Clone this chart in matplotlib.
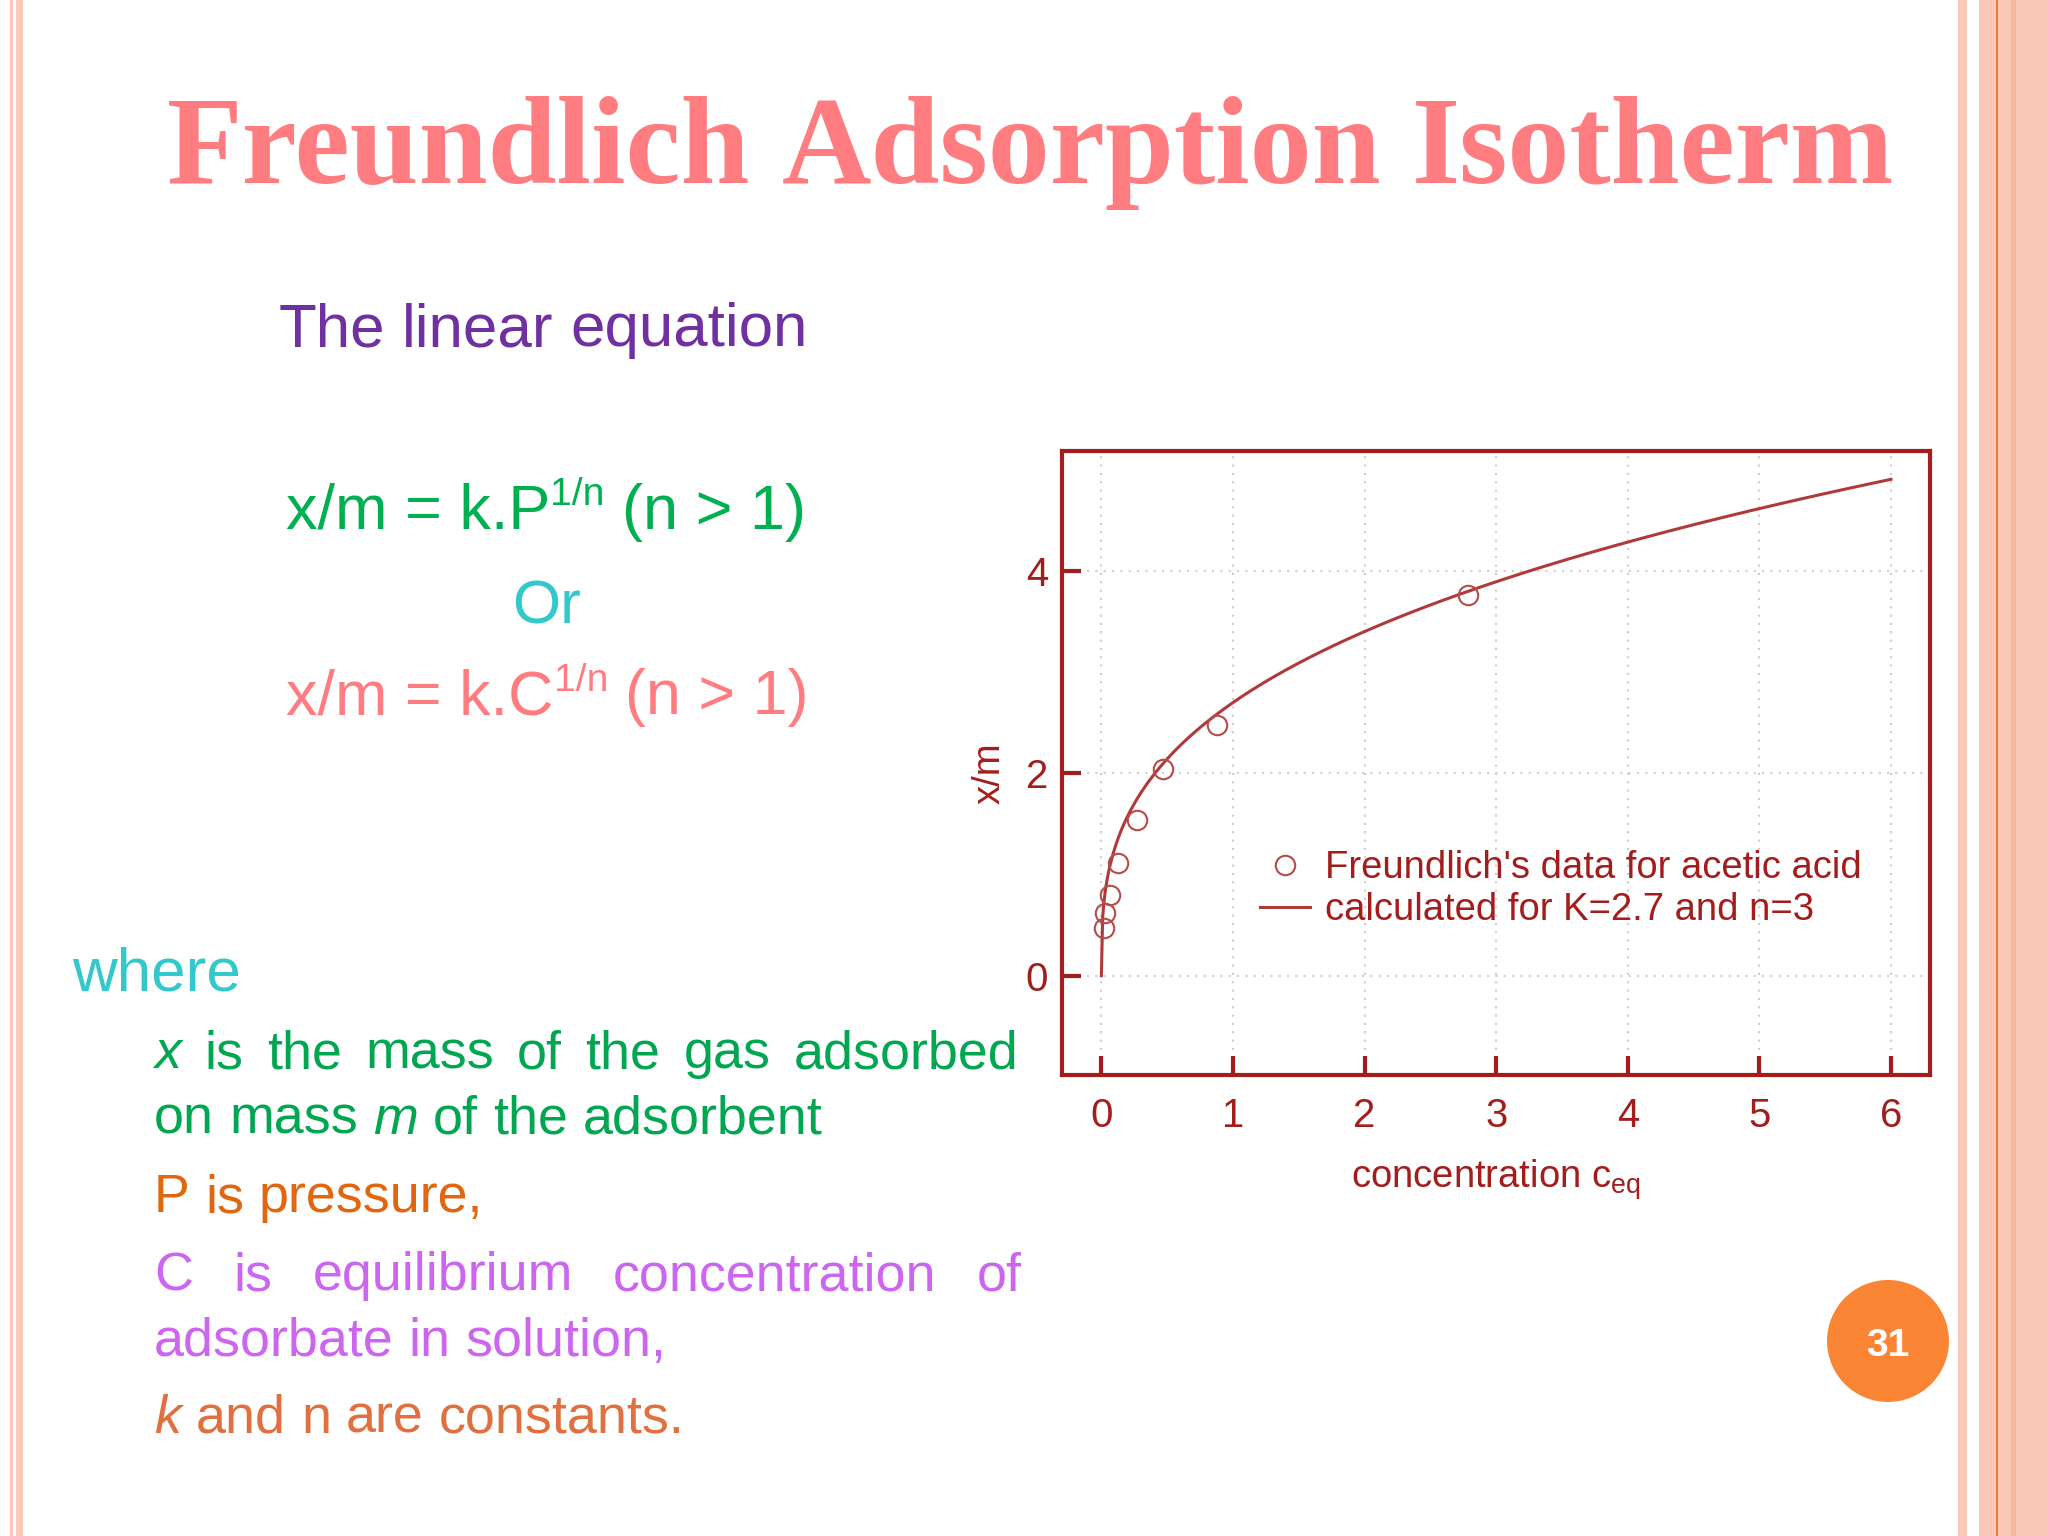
import numpy as np
import matplotlib
matplotlib.use('Agg')
import matplotlib.pyplot as plt
from matplotlib import font_manager
from matplotlib.patches import Circle, Rectangle
from matplotlib.transforms import IdentityTransform

# Freundlich's data for acetic acid
conc = [0.018, 0.031, 0.062, 0.126, 0.268, 0.471, 0.882, 2.785]
xm = [0.47, 0.62, 0.80, 1.11, 1.54, 2.04, 2.48, 3.76]

# constants of the calculated curve, as given in the legend
K = 2.7
n = 3
c_max = 6.0

xticks = [0, 1, 2, 3, 4, 5, 6]
yticks = [0, 2, 4]
data_label = "Freundlich's data for acetic acid"
curve_label = 'calculated for K=2.7 and n=3'

W, H = 2048, 1536
S = W / 1568  # layout was measured on a 1568 px wide view of the slide

names = {f.name for f in font_manager.fontManager.ttflist}
sans = 'Liberation Sans'
narrow = 'Liberation Sans Narrow' if 'Liberation Sans Narrow' in names else sans
serif = 'Liberation Serif'

plt.rcParams['mathtext.fontset'] = 'custom'
plt.rcParams['mathtext.rm'] = narrow
plt.rcParams['mathtext.it'] = narrow

fig = plt.figure(figsize=(W / 100, H / 100), dpi=100)
fig.patch.set_facecolor('white')
renderer = fig.canvas.get_renderer()


def fx(x):
    return x * S / W


def fy(y):
    return 1 - y * S / H


def width_of(s, size, family, style='normal', weight='normal'):
    t = fig.text(0, 0, s, fontsize=size, family=family, style=style, weight=weight)
    w = t.get_window_extent(renderer).width
    t.remove()
    return w


def tok(s, it=False, sp=True, sc=1.0, rise=0.0):
    return (s, it, sp, sc, rise)


def words(s, italic_first=False):
    return [tok(w, it=(i == 0 and italic_first), sp=i > 0) for i, w in enumerate(s.split())]


def put_line(x0, x1, y, tokens, color, family=sans, size=None, justify=False, weight='normal'):
    def lay(sz):
        ws = [width_of(t, sz * sc, family, 'italic' if it else 'normal', weight)
              for t, it, sp, sc, r in tokens]
        space = width_of('n n', sz, family, weight=weight) - width_of('nn', sz, family, weight=weight)
        return ws, space
    nsp = sum(1 for t in tokens if t[2])
    if size is None:
        ws, space = lay(10)
        size = 10 * (x1 - x0) * S / (sum(ws) + space * nsp)
    ws, space = lay(size)
    if justify and nsp:
        space = ((x1 - x0) * S - sum(ws)) / nsp
    x = x0 * S
    for (t, it, sp, sc, rise), w in zip(tokens, ws):
        if sp:
            x += space
        fig.text(x / W, fy(y) + rise * size * 100 / 72 / H, t, fontsize=size * sc,
                 family=family, style='italic' if it else 'normal', weight=weight,
                 color=color, va='baseline', ha='left')
        x += w
    return size


# slide border stripes
stripe = '#f9c8b6'
for x0, x1, c in [(10, 13, stripe), (16, 23, stripe), (1958, 1967, stripe),
                  (1979, 2048, stripe), (2011, 2016, '#f6b89e'), (1996, 1998, '#f07a3e')]:
    fig.add_artist(Rectangle((x0 / W, 0), (x1 - x0) / W, 1, transform=fig.transFigure,
                             facecolor=c, edgecolor='none'))

# title
put_line(128, 1453, 140, words('Freundlich Adsorption Isotherm'), '#ff7c80',
         family=serif, weight='bold')

put_line(213, 621, 265, words('The linear equation'), '#7030a0')

put_line(219, 617, 405, [tok('x/m = k.P', sp=False), tok('1/n', sp=False, sc=0.62, rise=0.38),
                         tok('(n > 1)')], '#00b050')
put_line(392, 445, 477, words('Or'), '#33c9cc')
put_line(219, 619, 547, [tok('x/m = k.C', sp=False), tok('1/n', sp=False, sc=0.62, rise=0.38),
                         tok('(n > 1)')], '#ff7c80')

put_line(55, 185, 758, words('where'), '#33c9cc')

body = put_line(118, 630, 868, [tok('on', sp=False), tok('mass'), tok('m', it=True), tok('of'),
                                tok('the'), tok('adsorbent')], '#00a650')
put_line(118, 780, 818, words('x is the mass of the gas adsorbed', italic_first=True), '#00a650',
         size=body, justify=True)
put_line(118, 368, 928, words('P is pressure,'), '#e2650f', size=body)
put_line(118, 782, 988, words('C is equilibrium concentration of'), '#cc66f0',
         size=body, justify=True)
put_line(118, 511, 1038, words('adsorbate in solution,'), '#cc66f0', size=body)
put_line(118, 524, 1097, words('k and n are constants.', italic_first=True), '#e07040', size=body)

# page number badge
fig.add_artist(Circle((1888, H - 1341), 61, transform=IdentityTransform(),
                      facecolor='#fa8535', edgecolor='none'))
fig.text(1888 / W, 1 - 1346 / H, '31', color='white', fontsize=28, family=sans,
         weight='bold', ha='center', va='center')

# the chart
dark = '#a31d1d'
chart_size = 10 * 539 / width_of(data_label, 10, narrow)

ax = fig.add_axes([fx(813), fy(823), fx(1478) - fx(813), fy(345) - fy(823)])
cc = np.linspace(0, c_max, 600)
pts, = ax.plot(conc, xm, 'o', mfc='none', mec='#b84a4a', ms=14, mew=1.5,
               label=data_label, zorder=3)
line, = ax.plot(cc, K * cc ** (1 / n), color='#b03a3a', lw=2.2, label=curve_label, zorder=2)

ax.set_xlim(-0.3, 6.3)
ax.set_ylim(-0.98, 5.19)
ax.set_xticks(xticks)
ax.set_yticks(yticks)
ax.grid(True, ls=(0, (1, 3)), color='#d6cccc', lw=1.5)
for s in ax.spines.values():
    s.set_color(dark)
    s.set_linewidth(3)
ax.tick_params(direction='in', length=14, width=3, color=dark, labelcolor=dark,
               labelsize=chart_size * 1.05)
ax.tick_params(axis='x', pad=16)
ax.tick_params(axis='y', pad=10)
for lab in ax.get_xticklabels() + ax.get_yticklabels():
    lab.set_family(narrow)

ax.set_xlabel('concentration c$_{eq}$', color=dark, fontsize=chart_size, family=narrow)
ax.xaxis.set_label_coords(0.5, -0.132)
ax.set_ylabel('x/m', color=dark, fontsize=chart_size, family=narrow)
ax.yaxis.set_label_coords(-0.063, 0.483)

leg = ax.legend(handles=[pts, line], loc='upper left', bbox_to_anchor=(fx(965), fy(651)),
                bbox_transform=fig.transFigure, frameon=False, borderpad=0, borderaxespad=0,
                handlelength=1.3, handletextpad=0.4, labelspacing=0.15,
                prop={'family': narrow, 'size': chart_size})
for t in leg.get_texts():
    t.set_color(dark)

fig.savefig('out.png', dpi=100, facecolor='white')
